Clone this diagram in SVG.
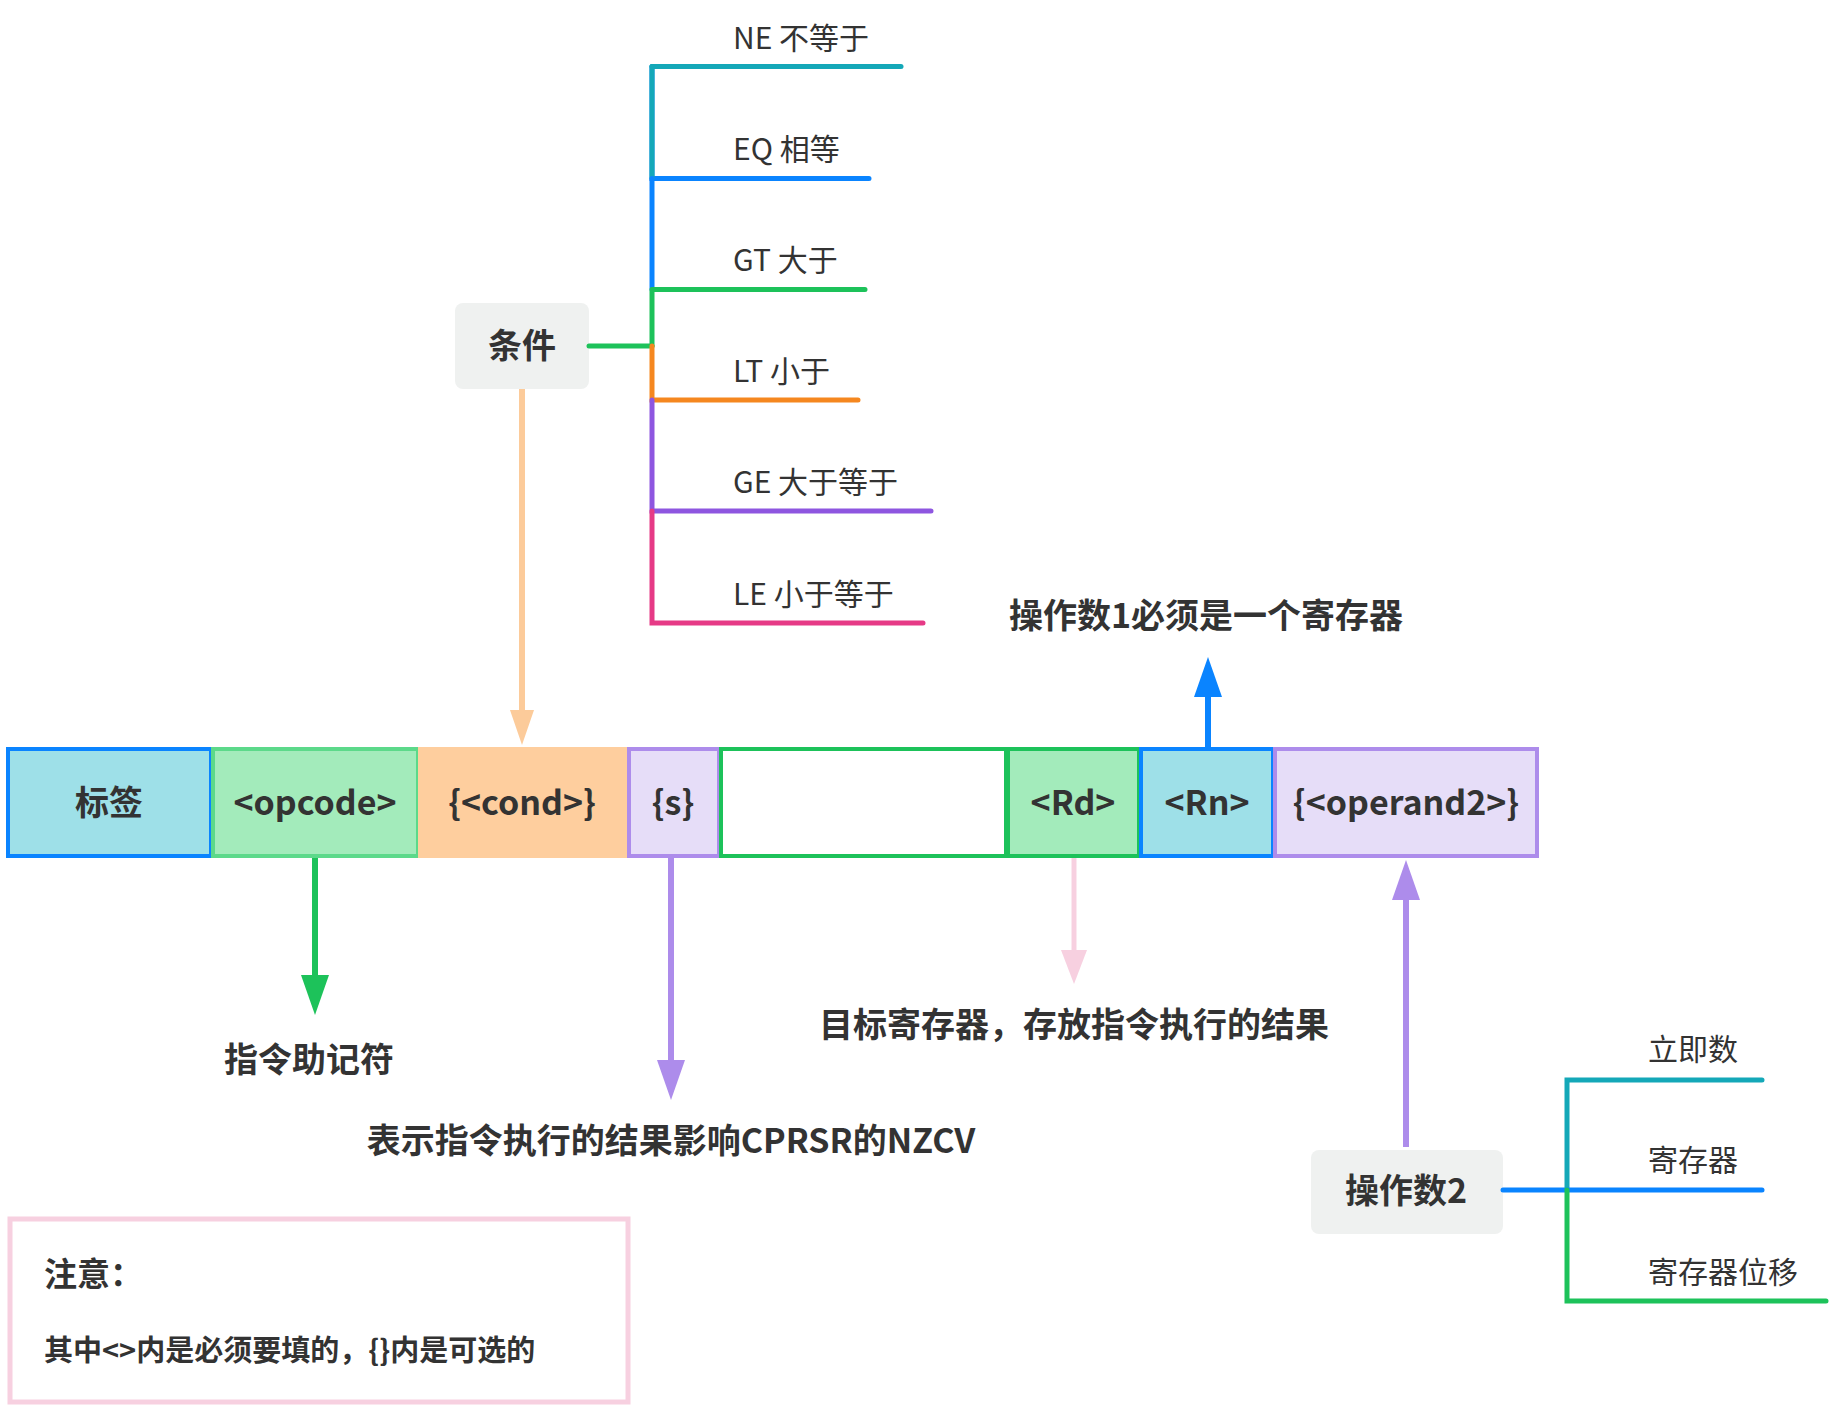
<svg xmlns="http://www.w3.org/2000/svg" width="1830" height="1410" viewBox="0 0 1830 1410">
<defs>
<style>
text{font-family:"Noto Sans CJK SC","Noto Sans",sans-serif;fill:#333}
.b{font-weight:bold}
.box{stroke-width:4}
.bt{font-size:34px;font-weight:bold;text-anchor:middle}
.lt{font-size:30px}
.ln{fill:none;stroke-width:5;stroke-linecap:round}
</style>
<marker id="ag" markerWidth="6" markerHeight="6" refX="3" refY="5" orient="auto" markerUnits="userSpaceOnUse" viewBox="0 0 6 6"><path d="M0,0 L6,0 L3,6z" fill="#1DC25A"/></marker>
</defs>
<rect width="1830" height="1410" fill="#fff"/>
<g id="cond-node"><rect x="455" y="303" width="134" height="86" rx="8" fill="#EFF1F0"/><text x="522" y="358" class="bt" font-size="36">条件</text></g>
<g id="op2-node"><rect x="1311" y="1150" width="192" height="84" rx="8" fill="#EFF1F0"/><text x="1406" y="1203" class="bt">操作数2</text></g>
<g id="boxes">
<rect x="8" y="749" width="203" height="107" class="box" fill="#9EE0E8" stroke="#0A84FF"/>
<rect x="213" y="749" width="205" height="107" class="box" fill="#A3EBBB" stroke="#5CD98A"/>
<rect x="418" y="747" width="209" height="111" fill="#FECE9E"/>
<rect x="629" y="749" width="90" height="107" class="box" fill="#E6DDF8" stroke="#AD8CEB"/>
<rect x="721" y="749" width="285" height="107" class="box" fill="#fff" stroke="#1DC25A"/>
<rect x="1008" y="749" width="131" height="107" class="box" fill="#A3EBBB" stroke="#1DC25A"/>
<rect x="1141" y="749" width="132" height="107" class="box" fill="#9EE0E8" stroke="#0A84FF"/>
<rect x="1275" y="749" width="262" height="107" class="box" fill="#E6DDF8" stroke="#AD8CEB"/>
<text x="109" y="815" class="bt">标签</text>
<text x="315" y="815" class="bt">&lt;opcode&gt;</text>
<text x="522" y="815" class="bt">{&lt;cond&gt;}</text>
<text x="673" y="815" class="bt">{s}</text>
<text x="1073" y="815" class="bt">&lt;Rd&gt;</text>
<text x="1207" y="815" class="bt">&lt;Rn&gt;</text>
<text x="1406" y="815" class="bt">{&lt;operand2&gt;}</text>
</g>
<g id="connectors">
<path d="M589,346H652" class="ln" stroke="#1DC25A" stroke-linecap="butt"/>
<path d="M652,66.5V178.5H869" class="ln" stroke="#0A84FF"/>
<path d="M652,66.5H901" class="ln" stroke="#14A8B8"/>
<path d="M652,66.5V178.5" class="ln" stroke="#14A8B8"/>
<path d="M652,178.5V289.5" class="ln" stroke="#0A84FF"/>
<path d="M652,289.5H865M652,289.5V346" class="ln" stroke="#1DC25A"/>
<path d="M652,346V400H858" class="ln" stroke="#F5871F"/>
<path d="M652,400V511H931" class="ln" stroke="#8E56E0"/>
<path d="M652,511V623H923" class="ln" stroke="#E63A86"/>
<path d="M1503,1190H1567" class="ln" stroke="#0A84FF" stroke-linecap="butt"/>
<path d="M1567,1190V1080H1762" class="ln" stroke="#14A8B8"/>
<path d="M1567,1190H1762" class="ln" stroke="#0A84FF"/>
<path d="M1567,1190V1301H1826" class="ln" stroke="#1DC25A"/>
<path d="M522,389V720" stroke="#FCCB9A" stroke-width="6" fill="none"/><path d="M510,710L522,745L534,710z" fill="#FCCB9A"/>
<path d="M315,858V985" stroke="#1DC25A" stroke-width="6" fill="none"/><path d="M301,975L315,1015L329,975z" fill="#1DC25A"/>
<path d="M671,858V1070" stroke="#AD8CEB" stroke-width="6" fill="none"/><path d="M657,1060L671,1100L685,1060z" fill="#AD8CEB"/>
<path d="M1074,858V960" stroke="#F7D0E0" stroke-width="5" fill="none"/><path d="M1061,950L1074,984L1087,950z" fill="#F7D0E0"/>
<path d="M1208,747V685" stroke="#0A84FF" stroke-width="6" fill="none"/><path d="M1194,697L1208,657L1222,697z" fill="#0A84FF"/>
<path d="M1406,1147V890" stroke="#AD8CEB" stroke-width="6" fill="none"/><path d="M1392,900L1406,860L1420,900z" fill="#AD8CEB"/>
</g>
<g id="labels">
<text x="733" y="49" class="lt">NE 不等于</text>
<text x="733" y="160" class="lt">EQ 相等</text>
<text x="733" y="271" class="lt">GT 大于</text>
<text x="733" y="382" class="lt">LT 小于</text>
<text x="733" y="493" class="lt">GE 大于等于</text>
<text x="733" y="605" class="lt">LE 小于等于</text>
<text x="1648" y="1060" class="lt">立即数</text>
<text x="1648" y="1171" class="lt">寄存器</text>
<text x="1648" y="1283" class="lt">寄存器位移</text>
<text x="309" y="1072" class="bt">指令助记符</text>
<text x="671" y="1153" class="bt">表示指令执行的结果影响CPRSR的NZCV</text>
<text x="1074" y="1037" class="bt">目标寄存器，存放指令执行的结果</text>
<text x="1206" y="628" class="bt">操作数1必须是一个寄存器</text>
</g>
<g id="note">
<rect x="10" y="1219" width="618" height="183" fill="#fff" stroke="#F7D0E0" stroke-width="5"/>
<text x="44" y="1286" class="b" font-size="33">注意：</text>
<text x="44" y="1361" class="b" font-size="29">其中&lt;&gt;内是必须要填的，{}内是可选的</text>
</g>
</svg>
